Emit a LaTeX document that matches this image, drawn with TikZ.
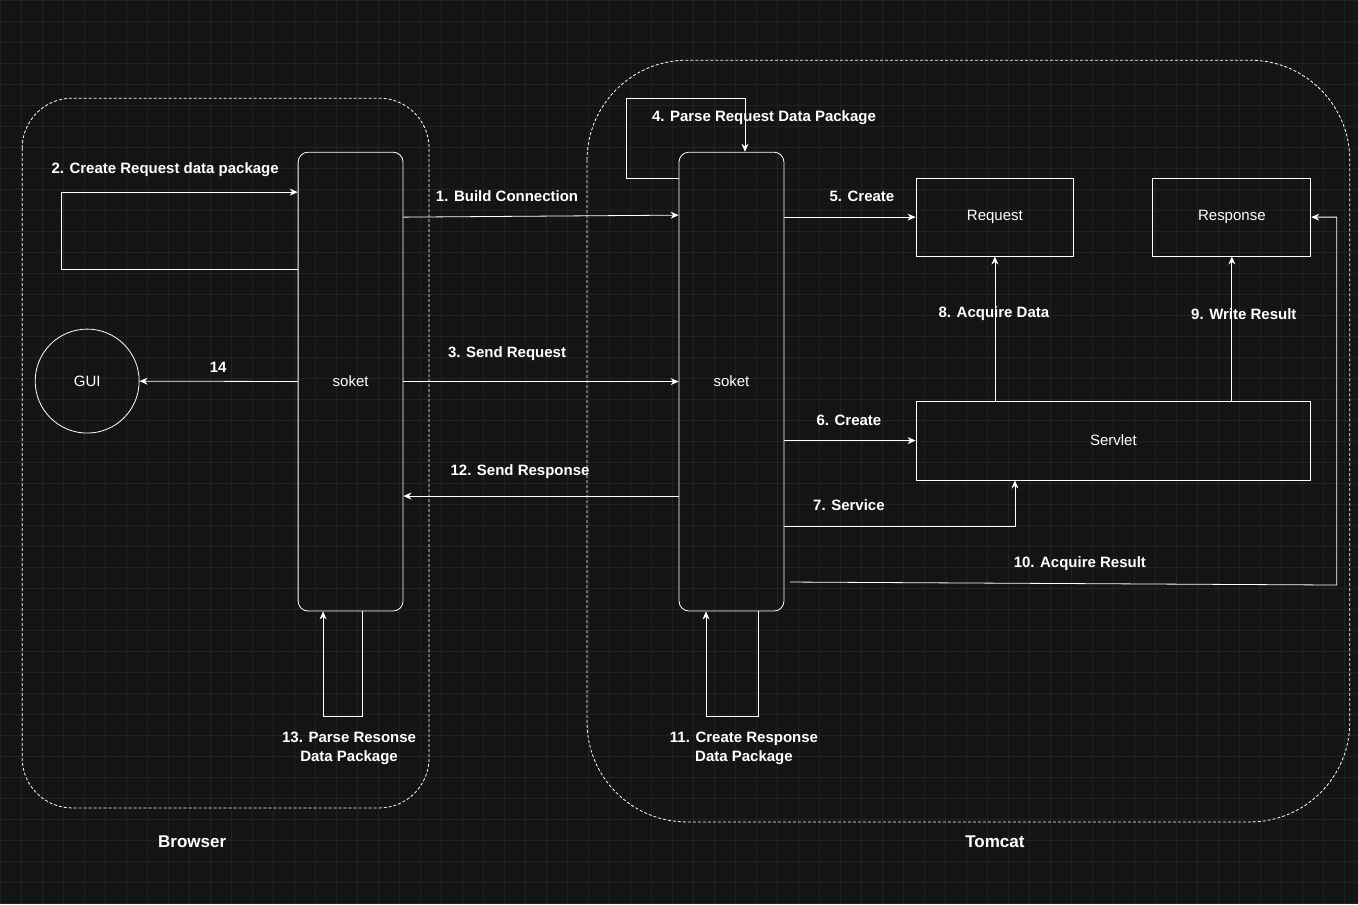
\documentclass[tikz,border=0pt]{standalone}
\usepackage{fontspec}
\setmainfont{Liberation Sans}
\usetikzlibrary{arrows.meta}
\definecolor{bg}{HTML}{141414}
\definecolor{gridc}{HTML}{222222}
\tikzset{
  box/.style={draw=white, thick, rectangle, inner sep=0pt},
  sock/.style={draw=white, thick, rounded corners=10pt, minimum width=105pt, minimum height=459pt, inner sep=0pt},
  group/.style={draw=white, densely dashed, thick},
  conn/.style={draw=white, thick, -{Stealth[length=8pt,width=7pt]}},
  lbl/.style={text=white, font=\fontsize{15pt}{19pt}\selectfont\bfseries, align=center},
  txt/.style={text=white, font=\fontsize{15pt}{18pt}\selectfont}
}
\begin{document}
\begin{tikzpicture}[x=1pt,y=-1pt]
    % Background and grid
    \fill[bg] (0,0) rectangle (1358,904);
    \draw[gridc, step=21pt] (0,0) grid (1358,904);
    \useasboundingbox (0,0) rectangle (1358,904);
    % Groups
    \draw[group, rounded corners=50pt] (22,98) rectangle (429,808);
    \draw[group, rounded corners=100pt] (587,60) rectangle (1350,822);
    \node[lbl, font=\fontsize{17pt}{20pt}\selectfont\bfseries] (browser) at (192,842) {Browser};
    \node[lbl, font=\fontsize{17pt}{20pt}\selectfont\bfseries] (tomcat) at (995,842) {Tomcat};
    % Nodes
    \node[sock, txt] (s1) at (350.5,381.5) {soket};
    \node[sock, txt] (s2) at (731.5,381.5) {soket};
    \node[draw=white, thick, circle, minimum size=104pt, txt] (gui) at (87,381) {GUI};
    \node[box, minimum width=158pt, minimum height=78pt, txt] (req) at (995,217) {Request};
    \node[box, minimum width=158pt, minimum height=78pt, txt] (resp) at (1232,217) {Response};
    \node[box, minimum width=395pt, minimum height=79pt, txt] (srv) at (1113.5,440.5) {Servlet};
    % Browser side
    \draw[conn] (s1.west |- 0,269) -- (61,269) -- (61,192) -- (s1.west |- 0,192);
    \node[lbl] (l2) at (165,170) {2. Create Request data package};
    \draw[conn] (s1) -- (gui);
    \node[lbl] (l14) at (218,367) {14};
    \draw[conn] (s1.south -| 362,0) -- (362,716) -- (323,716) -- (s1.south -| 323,0);
    \node[lbl] (l13) at (349,748) {13. Parse Resonse\\Data Package};
    % Between sockets
    \draw[conn] (s1.east |- 0,217) -- (s2.west |- 0,215);
    \node[lbl] (l1) at (507,196) {1. Build Connection};
    \draw[conn] (s1) -- (s2);
    \node[lbl] (l3) at (507,354) {3. Send Request};
    \draw[conn] (s2.west |- 0,496) -- (s1.east |- 0,496);
    \node[lbl] (l12) at (520,472) {12. Send Response};
    % Tomcat side
    \draw[conn] (s2.west |- 0,178) -- (626,178) -- (626,98) -- (745,98) -- (s2.north -| 745,0);
    \node[lbl] (l4) at (764,117) {4. Parse Request Data Package};
    \draw[conn] (s2.east |- req.west) -- (req.west);
    \node[lbl] (l5) at (862,196) {5. Create};
    \draw[conn] (s2.east |- srv.west) -- (srv.west);
    \node[lbl] (l6) at (849,420) {6. Create};
    \draw[conn] (s2.east |- 0,526) -- (1015,526) -- (srv.south -| 1015,0);
    \node[lbl] (l7) at (849,505) {7. Service};
    \draw[conn] (srv.north -| req) -- (req.south);
    \node[lbl] (l8) at (994,314) {8. Acquire Data};
    \draw[conn] (srv.north -| resp) -- (resp.south);
    \node[lbl] (l9) at (1244,314) {9. Write Result};
    \draw[conn] (790,582) -- (1337,585) -- (1337,217) -- (resp.east);
    \node[lbl] (l10) at (1080,564) {10. Acquire Result};
    \draw[conn] (s2.south -| 758,0) -- (758,716) -- (706,716) -- (s2.south -| 706,0);
    \node[lbl] (l11) at (744,748) {11. Create Response\\Data Package};
\end{tikzpicture}
\end{document}
